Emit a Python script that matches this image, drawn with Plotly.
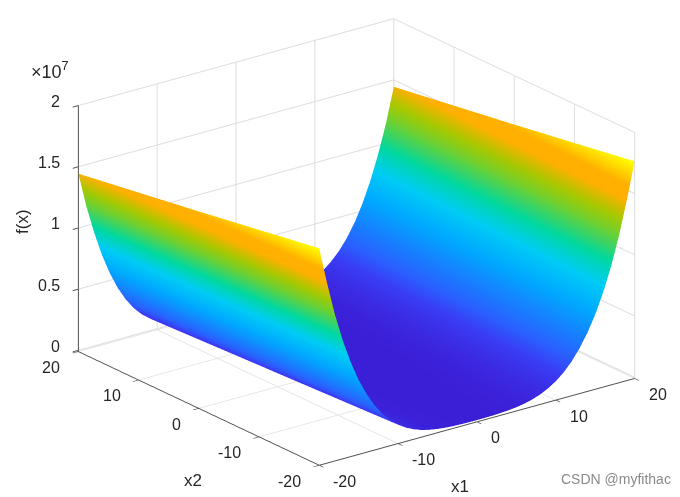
import plotly.graph_objects as go

x1_values = list(range(-20, 21))
x2_values = [-20, 0, 20]
# heights in units of 1e7
z_at_x2_minus20 = [1.764,1.46,1.186,0.955,0.762,0.600,0.467,0.358,0.269,0.199,0.144,0.102,0.0706,0.0476,0.0314,0.0203,0.013,0.0084,0.0058,0.0044,0.004,
                   0.0044,0.0058,0.0084,0.013,0.0203,0.0314,0.0476,0.0706,0.102,0.144,0.199,0.269,0.358,0.467,0.600,0.762,0.955,1.186,1.46,1.764]
z_at_x2_0 = [1.600,1.303,1.05,0.835,0.655,0.506,0.384,0.286,0.207,0.146,0.100,0.0656,0.041,0.024,0.013,0.00625,0.00256,0.00081,0.00016,0.00001,0.0,
             0.00001,0.00016,0.00081,0.00256,0.00625,0.013,0.024,0.041,0.0656,0.100,0.146,0.207,0.286,0.384,0.506,0.655,0.835,1.05,1.303,1.600]
z_at_x2_20 = [1.444,1.16,0.925,0.724,0.557,0.420,0.310,0.222,0.154,0.102,0.064,0.0372,0.0194,0.0084,0.0026,0.00025,0.00016,0.00121,0.00256,0.0036,0.004,
              0.0036,0.00256,0.00121,0.00016,0.00025,0.0026,0.0084,0.0194,0.0372,0.064,0.102,0.154,0.222,0.310,0.420,0.557,0.724,0.925,1.16,1.444]
z_rows = [z_at_x2_minus20, z_at_x2_0, z_at_x2_20]
x_ticks = [-20, -10, 0, 10, 20]
x_tick_labels = ["-20", "-10", "0", "10", "20"]
z_ticks = [0, 0.5, 1, 1.5, 2]
z_tick_labels = ["0", "0.5", "1", "1.5", "2"]
colors = [[0, "#3b1fd6"], [0.1, "#3a3cf5"], [0.16, "#2a60ff"], [0.34, "#00a8ff"], [0.46, "#00ccf5"], [0.56, "#00d8a0"],
          [0.68, "#70d030"], [0.75, "#a8c800"], [0.83, "#ffb000"], [0.89, "#ffb000"], [1, "#ffff00"]]
TEXT = "#262626"

fig = go.Figure(go.Surface(x=x1_values, y=x2_values, z=z_rows, colorscale=colors, cmin=0, cmax=1.764,
                           showscale=False, hoverinfo="skip",
                           lighting=dict(ambient=1, diffuse=0, specular=0, roughness=1, fresnel=0)))
def axis(**kw):
    return dict(title=dict(text=""),
                showbackground=False, showgrid=True, gridcolor="#dcdcdc", gridwidth=2,
                zeroline=False, showline=True, linecolor="#505050", linewidth=2,
                ticks="outside", ticklen=7, tickcolor="#505050", tickwidth=2, showticklabels=False, showspikes=False, **kw)

def label(text, px, py, size=17, angle=0, color=TEXT, anchor="center"):
    return dict(text=text, x=px/680, y=1-py/497, xref="paper", yref="paper", showarrow=False,
                xanchor=anchor, yanchor="middle", textangle=angle,
                font=dict(family="Liberation Sans", size=size, color=color))

def tick(text, x, y, z, anchor, dx, dy):
    return dict(text=text, x=x, y=y, z=z, showarrow=False, xanchor=anchor, yanchor="middle",
                xshift=dx, yshift=dy, font=dict(family="Liberation Sans", size=16, color=TEXT))

tick_notes = []
for v, t in zip(x_ticks, x_tick_labels):
    tick_notes.append(tick(t, v, -20, 0, "left", 12, -17))
    tick_notes.append(tick(t, -20, v, 0, "right", -16, -17))
for v, t in zip(z_ticks, z_tick_labels):
    tick_notes.append(tick(t, -20, 20, v, "right", -16, 4))

fig.update_layout(
    width=680, height=497, margin=dict(l=0, r=0, t=0, b=0), paper_bgcolor="white",
    scene=dict(
        domain=dict(x=[0.0485, 1], y=[0.026, 1]),
        xaxis=axis(range=[-20, 20], tickvals=x_ticks),
        yaxis=axis(range=[-20, 20], tickvals=x_ticks),
        zaxis=axis(range=[-0.01, 2], tickvals=z_ticks),
        aspectmode="manual", aspectratio=dict(x=1.64, y=1.64, z=1.09),
        camera=dict(projection=dict(type="orthographic"), up=dict(x=0, y=0, z=1),
                    center=dict(x=0, y=0, z=0), eye=dict(x=-0.708, y=-0.927, z=0.451)),
        annotations=tick_notes,
    ),
    annotations=[
        label("×10<sup>7</sup>", 29, 70, size=18, anchor="left"),
        label("CSDN @myfithac", 673, 479, size=14, color="#8a8a8a", anchor="right"),
        label("x1", 460, 486),
        label("x2", 193, 480),
        label("f(x)", 22, 222, angle=-90),
    ],
)
fig.write_html("out.html", post_script="document.body.style.margin='0';", config=dict(displayModeBar=False))
